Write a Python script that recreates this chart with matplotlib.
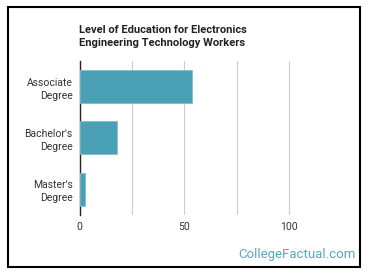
import matplotlib.pyplot as plt
from matplotlib.patches import Rectangle

# Data
categories = ["Associate\nDegree", "Bachelor's\nDegree", "Master's\nDegree"]
values = [53.6, 17.9, 2.6]
xticks = [0, 50, 100]

plt.rcParams['font.family'] = ['Roboto', 'DejaVu Sans']

fig = plt.figure(figsize=(3.7, 2.78), dpi=100)
ax = fig.add_axes([0.215, 0.227, 0.709, 0.554])

ax.barh(range(len(categories)), values, height=0.64, color='#4aa0b5',
        edgecolor='#7fc0cf', linewidth=0.6, zorder=3)

ax.set_xlim(0, 125)
ax.set_ylim(2.5, -0.5)
ax.set_yticks(range(len(categories)))
ax.set_yticklabels(categories, fontsize=7.5, color='#333333', linespacing=1.4)
ax.set_xticks(xticks)
ax.set_xticklabels([str(t) for t in xticks], fontsize=7.5, color='#333333')
ax.set_xticks([25, 75], minor=True)
ax.grid(axis='x', which='both', color='#cccccc', linewidth=0.8, zorder=0)
ax.tick_params(axis='both', length=0, pad=5)
ax.tick_params(axis='x', which='minor', length=0)

for s in ['top', 'right', 'bottom']:
    ax.spines[s].set_visible(False)
ax.spines['left'].set_color('#222222')
ax.spines['left'].set_linewidth(1.0)

fig.text(0.213, 0.868, "Level of Education for Electronics\nEngineering Technology Workers",
         fontsize=8, fontweight='bold', color='#222222', va='center', ha='left',
         linespacing=1.3)

fig.text(0.96, 0.083, "CollegeFactual.com", fontsize=9.5, color='#5aa6bd',
         ha='right', va='center')

# outer border
fig.patches.append(Rectangle((0.022, 0.04), 0.952, 0.935, transform=fig.transFigure,
                             fill=False, edgecolor='black', linewidth=1.5))

fig.savefig('out.png', dpi=100)
